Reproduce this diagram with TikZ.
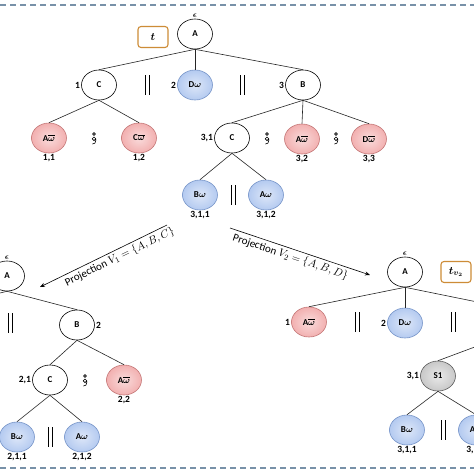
\documentclass[tikz,border=0pt]{standalone}
\usepackage{fontspec}
\setmainfont{Carlito}
\usepackage{bm}
\usetikzlibrary{shapes.geometric,arrows.meta}

\definecolor{rosa}{RGB}{242,176,176}
\definecolor{rosaborde}{RGB}{196,118,118}
\definecolor{azul}{RGB}{180,202,240}
\definecolor{azulborde}{RGB}{118,148,200}
\definecolor{gris}{RGB}{200,200,200}
\definecolor{grisborde}{RGB}{90,90,90}
\definecolor{naranja}{RGB}{205,140,55}
\definecolor{guion}{RGB}{120,145,168}

\tikzset{
  nodo/.style={ellipse, draw, line width=0.6pt, minimum width=35pt, minimum height=30pt,
    inner sep=0pt, font=\fontsize{9}{10}\selectfont\bfseries},
  blanco/.style={nodo, fill=white},
  rojo/.style={nodo, draw=rosaborde, inner color=rosa!45, outer color=rosa},
  azulado/.style={nodo, draw=azulborde, inner color=azul!45, outer color=azul},
  grisado/.style={nodo, draw=grisborde, inner color=gris!40, outer color=gris},
  oculto/.style={ellipse, minimum width=35pt, minimum height=30pt, inner sep=0pt},
  etq/.style={font=\fontsize{9.5}{10}\selectfont\bfseries, inner sep=1pt},
  eps/.style={font=\footnotesize, inner sep=1pt},
  caja/.style={draw=naranja, line width=1.1pt, rounded corners=3pt, fill=white,
    minimum width=30pt, minimum height=21pt, inner sep=0pt, font=\fontsize{11}{12}\selectfont},
  rama/.style={line width=0.6pt, draw=black!85},
  flecha/.style={line width=0.6pt, -{Stealth[length=5pt,width=4pt]}},
  proy/.style={font=\fontsize{11}{12}\selectfont, inner sep=2.5pt},
  paral/.pic={\draw[line width=0.8pt] (-2,-10) -- (-2,10) (2,-10) -- (2,10);},
  seqop/.pic={\draw[line width=0.6pt] (0,-4) circle[radius=1.4pt]
      (0,0.8) circle[radius=1.8pt]
      (1.8,0.8) -- (1.8,2.5) .. controls (1.8,5) and (0.5,6) .. (-1.6,6);},
}

\begin{document}
\begin{tikzpicture}[x=1pt,y=-1pt]
  \clip (0,0) rectangle (474,474);
  \fill[white] (0,0) rectangle (474,474);

  % Separadores
  \draw[guion, line width=1.2pt, dash pattern=on 6pt off 4pt] (0,5) -- (474,5);
  \draw[guion, line width=1.2pt, dash pattern=on 6pt off 4pt] (0,468) -- (474,468);

  % Arbol t
  \node[blanco, label={[eps]above:$\bm\epsilon$}] (tA) at (195,34) {A};
  \node[caja] (tt) at (153,37) {$\bm{t}$};
  \node[blanco, label={[etq]left:1}] (tC) at (99,85) {C};
  \node[azulado, label={[etq]left:2}] (tD) at (195,85) {D$\bm\omega$};
  \node[blanco, label={[etq]left:3}] (tB) at (303,85) {B};
  \pic at (147,85) {paral};
  \pic at (242,85) {paral};
  \node[rojo, label={[etq]below:{1,1}}] (tAw) at (49,138) {A$\overline{\bm\omega}$};
  \node[rojo, label={[etq]below:{1,2}}] (tCw) at (139,138) {C$\overline{\bm\omega}$};
  \pic at (94,138) {seqop};
  \node[blanco, label={[etq]left:{3,1}}] (tC2) at (232,138) {C};
  \pic at (267,138) {seqop};
  \node[rojo, label={[etq]below:{3,2}}] (tAw2) at (302,139) {A$\overline{\bm\omega}$};
  \pic at (336,138) {seqop};
  \node[rojo, label={[etq]below:{3,3}}] (tDw) at (369,139) {D$\overline{\bm\omega}$};
  \node[azulado, label={[etq]below:{3,1,1}}] (tBw) at (200,195) {B$\bm\omega$};
  \pic at (233,195) {paral};
  \node[azulado, label={[etq]below:{3,1,2}}] (tAw3) at (266,195) {A$\bm\omega$};

  \foreach \h in {tC,tD,tB} \draw[rama] (tA.south) -- (\h.north);
  \foreach \h in {tAw,tCw} \draw[rama] (tC.south) -- (\h.north);
  \foreach \h in {tC2,tAw2,tDw} \draw[rama] (tB.south) -- (\h.north);
  \foreach \h in {tBw,tAw3} \draw[rama] (tC2.south) -- (\h.north);

  % Proyecciones
  \coordinate (p1i) at (167,225);
  \coordinate (p1f) at (40,287);
  \coordinate (p2i) at (230,228);
  \coordinate (p2f) at (370,275);
  \draw[flecha] (p1i) -- node[proy, pos=0.4, below, sloped] {Projection $V_1=\{A,B,C\}$} (p1f);
  \draw[flecha] (p2i) -- node[proy, pos=0.45, below, sloped] {Projection $V_2=\{A,B,D\}$} (p2f);

  % Arbol proyectado V1
  \node[blanco, label={[eps]above:$\bm\epsilon$}] (lA) at (7,276) {A};
  \node[oculto] (l1) at (-90,330) {};
  \pic at (10,323) {paral};
  \node[blanco, label={[etq]right:2}] (lB) at (77,325) {B};
  \node[blanco, label={[etq]left:{2,1}}] (lC) at (50,380) {C};
  \pic at (85,380) {seqop};
  \node[rojo, label={[etq]below:{2,2}}] (lAw) at (124,380) {A$\overline{\bm\omega}$};
  \node[azulado, label={[etq]below:{2,1,1}}] (lBw) at (17,437) {B$\bm\omega$};
  \pic at (50,437) {paral};
  \node[azulado, label={[etq]below:{2,1,2}}] (lAw2) at (82,437) {A$\bm\omega$};

  \foreach \h in {l1,lB} \draw[rama] (lA.south) -- (\h.north);
  \foreach \h in {lC,lAw} \draw[rama] (lB.south) -- (\h.north);
  \foreach \h in {lBw,lAw2} \draw[rama] (lC.south) -- (\h.north);

  % Arbol proyectado V2
  \node[blanco, label={[eps]above:$\bm\epsilon$}] (rA) at (405,272) {A};
  \node[caja] (rt) at (456,272) {$\bm{t_{v_2}}$};
  \node[rojo, label={[etq]left:1}] (rAw) at (309,322) {A$\overline{\bm\omega}$};
  \pic at (357,322) {paral};
  \node[azulado, label={[etq]left:2}] (rD) at (405,323) {D$\bm\omega$};
  \pic at (453,322) {paral};
  \node[oculto] (rB) at (501,322) {};
  \node[grisado, label={[etq]left:{3,1}}] (rS) at (438,376) {S1};
  \node[azulado, label={[etq]below:{3,1,1}}] (rBw) at (407,430) {B$\bm\omega$};
  \pic at (443,430) {paral};
  \node[azulado, label={[etq]below:{3,1,2}}] (rAw2) at (476,430) {A$\bm\omega$};

  \foreach \h in {rAw,rD,rB} \draw[rama] (rA.south) -- (\h.north);
  \draw[rama] (rB.south) -- (rS.north);
  \foreach \h in {rBw,rAw2} \draw[rama] (rS.south) -- (\h.north);
\end{tikzpicture}
\end{document}
